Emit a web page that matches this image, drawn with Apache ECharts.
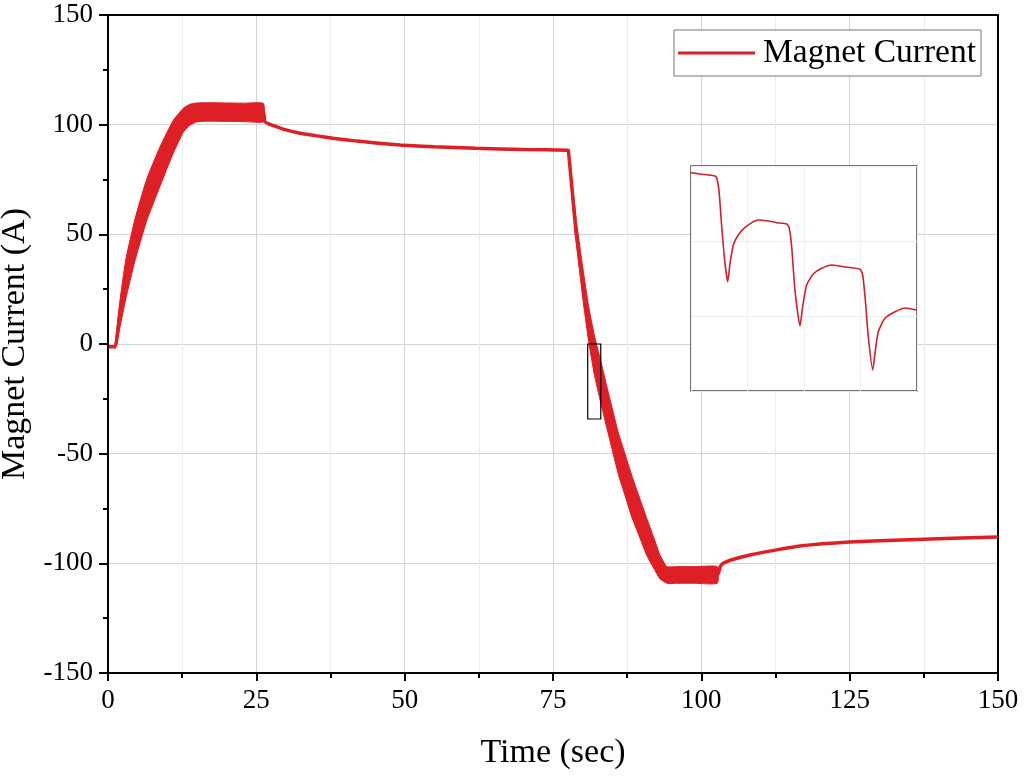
<!DOCTYPE html>
<html><head><meta charset="utf-8">
<script src="https://cdn.jsdelivr.net/npm/echarts@6/dist/echarts.min.js"></script>
<style>html,body{margin:0;padding:0;background:#fff}#c{width:1025px;height:777px}</style>
</head><body><div id="c"></div>
<script>
// ---- data ----
const seriesName = 'Magnet Current';
const mainX = [0.1, 1.2, 2.0, 3.0, 4.5, 6.5, 8.75, 11.0, 12.7, 13.8, 15.0, 20.0, 26.2, 26.4, 27.0, 28.4, 30.0, 32.4, 35.0, 37.9, 42.0, 49.2, 55.0, 62.0, 70.0, 77.5, 77.6, 78.0, 78.5, 78.9, 80.4, 81.5, 84.05, 86.0, 88.3, 90.8, 93.0, 94.2, 102.7, 103.2, 103.7, 105.0, 108.2, 112.0, 116.6, 125.0, 135.0, 150.0];
const mainY = [-1.2, -1.2, 13.5, 29.5, 47, 65.5, 80.8, 94.5, 102, 104.5, 105.6, 105.7, 105.5, 101.5, 100.5, 99.1, 97.6, 96.1, 95.0, 93.8, 92.5, 90.7, 89.9, 89.2, 88.7, 88.3, 88.0, 76.5, 62, 50.5, 20.1, 0.3, -28.6, -49.8, -69.6, -87.9, -101.5, -105.3, -105.3, -101.5, -100, -98.5, -96.2, -94.2, -92.1, -90.3, -89.2, -88.0];

// ripple envelope while ramping up and on the positive plateau
const upX    = [1.2, 2.0, 3.0, 4.5, 6.5, 8.75, 11.0, 12.7, 13.8, 15.0, 17.0, 20.0, 23.0, 26.2];
const upHigh = [-0.4, 19.5, 38.5, 56.5, 75, 89.8, 102, 107.5, 109.3, 109.9, 110, 109.9, 109.8, 109.7];
const upLow  = [-2.0, 7.5, 20.5, 37.5, 56, 71.8, 87, 96.5, 99.7, 101.3, 101.6, 101.5, 101.4, 101.3];

// ripple envelope while ramping down and on the negative plateau
const downX    = [78.0, 79.0, 80.0, 81.0, 82.0, 83.0, 84.0, 85.0, 86.0, 87.0, 88.3, 89.5, 90.8, 92.0, 93.0, 94.2, 96.0, 99.0, 102.7];
const downHigh = [79, 55, 35.2, 17.3, 3.6, -7.2, -18.5, -29.4, -40.3, -48.9, -60.1, -69.4, -79.4, -88.3, -96, -101.5, -101.5, -101.5, -101.5];
const downLow  = [74, 45, 21.2, 1.3, -14.4, -26.2, -37.5, -48.4, -59.3, -67.9, -79.1, -87.4, -96.4, -102.3, -107, -109.1, -109.1, -109.1, -109.1];

// zoom window (marked rectangle) and inset trace
const zoomX = [80.85, 83.05];
const zoomY = [-34.2, 0];
const insetX = [80.85, 80.938, 81.084, 81.106, 81.125, 81.149, 81.181, 81.207, 81.230, 81.262, 81.310, 81.376, 81.505, 81.587, 81.684, 81.782, 81.807, 81.830, 81.862, 81.911, 81.937, 81.976, 82.040, 82.122, 82.220, 82.333, 82.495, 82.521, 82.544, 82.576, 82.619, 82.641, 82.673, 82.738, 82.836, 82.933, 83.047];
const insetY = [-1.02, -1.22, -1.52, -2.13, -4.15, -9.23, -14.79, -17.59, -14.79, -12.01, -10.49, -9.32, -8.21, -8.31, -8.62, -8.82, -9.47, -12.27, -18.85, -24.32, -21.39, -18.09, -16.42, -15.55, -15.05, -15.31, -15.70, -16.57, -19.87, -25.95, -31.01, -28.47, -25.19, -23.15, -22.15, -21.58, -21.89];

const RED = '#de1f26';
const FONT = 'Liberation Serif';

function pairs(xs, ys) { return xs.map((x, i) => [x, ys[i]]); }

function bandSeries(xs, lo, hi) {
  return {
    type: 'custom', xAxisIndex: 0, yAxisIndex: 0, z: 3, silent: true,
    data: [[xs[0], lo[0]]], clip: true,
    renderItem: function (params, api) {
      const pts = [];
      for (let i = 0; i < xs.length; i++) pts.push(api.coord([xs[i], hi[i]]));
      for (let i = xs.length - 1; i >= 0; i--) pts.push(api.coord([xs[i], lo[i]]));
      return { type: 'polygon', shape: { points: pts, smooth: 0.15 }, style: { fill: RED, stroke: RED, lineWidth: 1 } };
    }
  };
}

const chart = echarts.init(document.getElementById('c'));
const axisBlack = { show: true, onZero: false, lineStyle: { color: '#000', width: 2 } };

chart.setOption({
  backgroundColor: '#fff',
  animation: false,
  textStyle: { fontFamily: FONT },
  legend: {
    data: [{ name: seriesName, icon: 'rect' }], left: 674, top: 30,
    itemWidth: 77, itemHeight: 3, itemStyle: { color: RED }, padding: [4, 5, 4, 4],
    borderColor: '#777', borderWidth: 1, backgroundColor: '#fff',
    textStyle: { fontFamily: FONT, fontSize: 33.5, color: '#000', lineHeight: 38, padding: [0, 0, 0, 3] }
  },
  grid: [
    { left: 108, right: 27, top: 15, bottom: 104, containLabel: false, outerBoundsMode: 'none' },
    { left: 691, top: 166, width: 226, height: 225, show: true, z: 5, containLabel: false, outerBoundsMode: 'none',
      backgroundColor: '#fff', borderColor: '#444', borderWidth: 1.5 }
  ],
  xAxis: [
    {
      type: 'value', gridIndex: 0, min: 0, max: 150, interval: 25,
      name: 'Time (sec)', nameLocation: 'middle', nameGap: 63,
      nameTextStyle: { fontFamily: FONT, fontSize: 34, color: '#000' },
      axisLine: axisBlack,
      axisTick: { show: true, length: 8, lineStyle: { color: '#000', width: 2 } },
      minorTick: { show: true, splitNumber: 2, length: 5, lineStyle: { color: '#000', width: 2 } },
      axisLabel: { fontFamily: FONT, fontSize: 27, color: '#000', margin: 14 },
      splitLine: { show: true, lineStyle: { color: '#d4d4d4', width: 1 } },
      minorSplitLine: { show: true, lineStyle: { color: '#ececec', width: 1 } }
    },
    {
      type: 'value', gridIndex: 0, position: 'top', min: 0, max: 150,
      axisLine: axisBlack, axisTick: { show: false }, axisLabel: { show: false }, splitLine: { show: false }
    },
    {
      type: 'value', gridIndex: 1, min: zoomX[0], max: zoomX[1], interval: 0.55, z: 6,
      axisLine: { show: false }, axisTick: { show: false }, axisLabel: { show: false },
      splitLine: { show: true, lineStyle: { color: '#f0f0f0', width: 1 } }
    }
  ],
  yAxis: [
    {
      type: 'value', gridIndex: 0, min: -150, max: 150, interval: 50,
      name: 'Magnet Current (A)', nameLocation: 'middle', nameGap: 76,
      nameTextStyle: { fontFamily: FONT, fontSize: 34, color: '#000' },
      axisLine: axisBlack,
      axisTick: { show: true, length: 9, lineStyle: { color: '#000', width: 2 } },
      minorTick: { show: true, splitNumber: 2, length: 5, lineStyle: { color: '#000', width: 2 } },
      axisLabel: { fontFamily: FONT, fontSize: 27, color: '#000', margin: 15 },
      splitLine: { show: true, lineStyle: { color: '#d4d4d4', width: 1 } }
    },
    {
      type: 'value', gridIndex: 0, position: 'right', min: -150, max: 150,
      axisLine: axisBlack, axisTick: { show: false }, axisLabel: { show: false }, splitLine: { show: false }
    },
    {
      type: 'value', gridIndex: 1, min: zoomY[0], max: zoomY[1], interval: 11.4, z: 6,
      axisLine: { show: false }, axisTick: { show: false }, axisLabel: { show: false },
      splitLine: { show: true, lineStyle: { color: '#ececec', width: 1 } }
    }
  ],
  series: [
    {
      name: seriesName, type: 'line', xAxisIndex: 0, yAxisIndex: 0, z: 4,
      data: pairs(mainX, mainY), symbol: 'none', smooth: 0.15,
      lineStyle: { color: RED, width: 3.5 }, itemStyle: { color: RED }
    },
    bandSeries(upX, upLow, upHigh),
    bandSeries(downX, downLow, downHigh),
    {
      type: 'custom', xAxisIndex: 0, yAxisIndex: 0, z: 8, silent: true,
      data: [[zoomX[0], zoomY[0]]],
      renderItem: function (params, api) {
        const p0 = api.coord([zoomX[0], zoomY[1]]);
        const p1 = api.coord([zoomX[1], zoomY[0]]);
        return { type: 'rect', shape: { x: p0[0], y: p0[1], width: p1[0] - p0[0], height: p1[1] - p0[1] },
                 style: { fill: 'none', stroke: '#000', lineWidth: 1.2 } };
      }
    },
    {
      name: 'inset', type: 'line', xAxisIndex: 2, yAxisIndex: 2, z: 10,
      data: pairs(insetX, insetY), symbol: 'none', smooth: 0.2,
      lineStyle: { color: '#d0202a', width: 1.6 }
    }
  ]
});
</script></body></html>
